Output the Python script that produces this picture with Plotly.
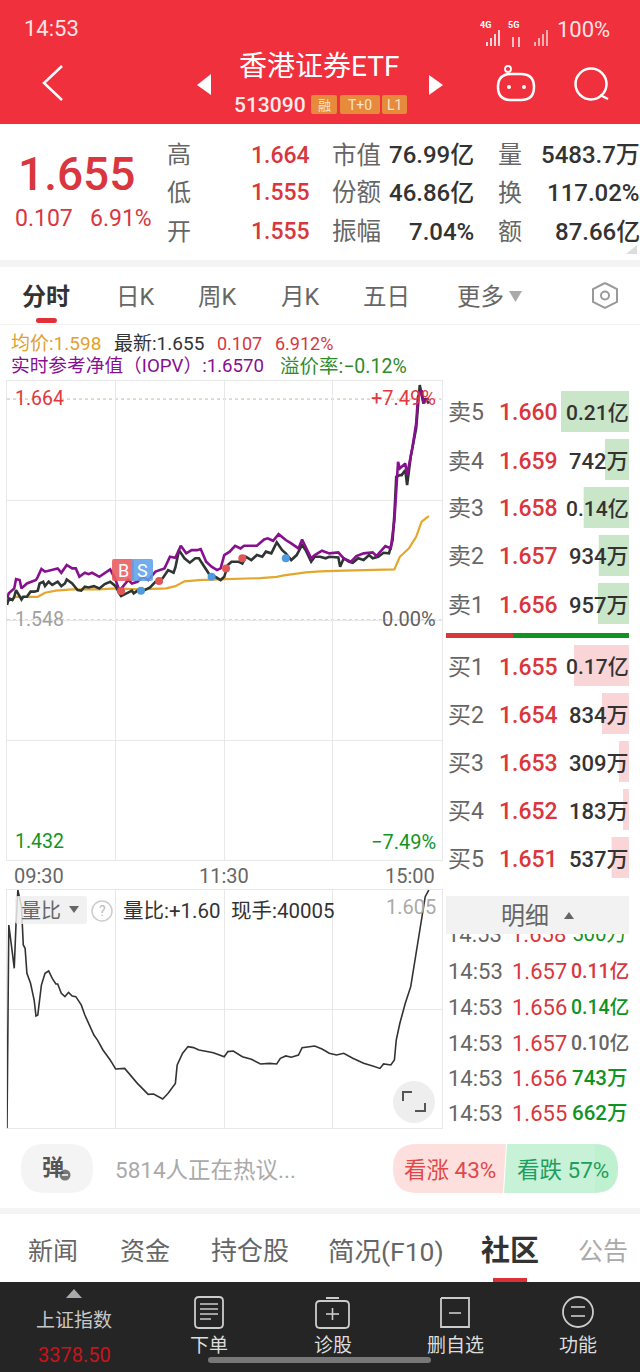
import plotly.graph_objects as go

W, H = 640, 1372
FONT = "Roboto, 'Noto Sans CJK SC', sans-serif"

RED = "#d9363e"
GREEN = "#11941f"
DARK = "#333333"
GRAY = "#666666"

# 分时 price chart, minute since 09:30 / price
price_min = [0, 1, 3, 4, 5, 6, 8, 9, 11, 13, 15, 17, 18, 20, 21, 23, 25, 28, 30, 32, 33, 36, 39, 41, 43, 45, 48, 51, 54, 57, 60, 62, 63, 66, 69, 70, 73, 76, 79, 82, 86, 89, 92, 93, 95, 98, 101, 104, 106, 109, 112, 115, 118, 120, 122, 124, 128, 130, 132, 135, 138, 141, 143, 146, 149, 152, 154, 157, 160, 163, 165, 168, 170, 173, 176, 178, 181, 183, 184, 186, 189, 191, 194, 197, 200, 202, 205, 208, 211, 213, 214, 215, 217, 218, 220, 221, 223, 226, 228, 230, 231, 233]
price = [1.5559, 1.5594, 1.5585, 1.5602, 1.5637, 1.5620, 1.5588, 1.5602, 1.5602, 1.5629, 1.5629, 1.5634, 1.5672, 1.5681, 1.5658, 1.5681, 1.5664, 1.5681, 1.5658, 1.5672, 1.5693, 1.5672, 1.5637, 1.5634, 1.5655, 1.5651, 1.5658, 1.5646, 1.5669, 1.5681, 1.5658, 1.5620, 1.5606, 1.5620, 1.5634, 1.5620, 1.5641, 1.5637, 1.5651, 1.5681, 1.5699, 1.5742, 1.5728, 1.5756, 1.5847, 1.5804, 1.5781, 1.5804, 1.5804, 1.5760, 1.5716, 1.5707, 1.5690, 1.5707, 1.5769, 1.5786, 1.5786, 1.5777, 1.5812, 1.5795, 1.5821, 1.5812, 1.5839, 1.5830, 1.5888, 1.5847, 1.5830, 1.5795, 1.5821, 1.5874, 1.5847, 1.5786, 1.5812, 1.5812, 1.5804, 1.5812, 1.5812, 1.5809, 1.5760, 1.5804, 1.5786, 1.5781, 1.5804, 1.5795, 1.5821, 1.5804, 1.5812, 1.5833, 1.5830, 1.5900, 1.6040, 1.6232, 1.6241, 1.6241, 1.6267, 1.6189, 1.6337, 1.6486, 1.6714, 1.6617, 1.6644, 1.6617]

iopv_min = [0, 1, 4, 5, 7, 8, 11, 14, 16, 17, 19, 21, 24, 28, 30, 33, 36, 38, 40, 43, 45, 47, 51, 55, 57, 60, 62, 64, 67, 69, 72, 75, 78, 82, 87, 90, 93, 96, 99, 102, 105, 107, 110, 113, 116, 118, 120, 123, 126, 129, 131, 138, 142, 144, 147, 150, 154, 157, 161, 163, 165, 168, 170, 174, 178, 183, 186, 190, 193, 197, 202, 204, 209, 212, 214, 215, 216, 217, 220, 221, 224, 226, 227, 229, 230, 233]
iopv = [1.5594, 1.5620, 1.5646, 1.5695, 1.5690, 1.5646, 1.5672, 1.5681, 1.5690, 1.5707, 1.5748, 1.5734, 1.5742, 1.5751, 1.5728, 1.5769, 1.5751, 1.5751, 1.5707, 1.5728, 1.5721, 1.5728, 1.5707, 1.5734, 1.5746, 1.5690, 1.5637, 1.5655, 1.5690, 1.5672, 1.5681, 1.5707, 1.5690, 1.5734, 1.5751, 1.5812, 1.5807, 1.5870, 1.5830, 1.5847, 1.5847, 1.5853, 1.5786, 1.5760, 1.5742, 1.5751, 1.5821, 1.5839, 1.5870, 1.5856, 1.5870, 1.5870, 1.5903, 1.5909, 1.5896, 1.5931, 1.5900, 1.5882, 1.5856, 1.5903, 1.5865, 1.5804, 1.5821, 1.5844, 1.5830, 1.5835, 1.5804, 1.5786, 1.5816, 1.5830, 1.5835, 1.5816, 1.5868, 1.5856, 1.6005, 1.6162, 1.6311, 1.6276, 1.6302, 1.6241, 1.6390, 1.6512, 1.6652, 1.6687, 1.6626, 1.6644]

avg_min = [0, 5, 12, 17, 21, 27, 36, 44, 51, 60, 73, 88, 93, 98, 106, 116, 129, 140, 149, 153, 165, 173, 186, 199, 214, 215, 217, 222, 226, 229, 233]
avg = [1.5576, 1.5602, 1.5602, 1.5602, 1.5623, 1.5634, 1.5641, 1.5641, 1.5641, 1.5646, 1.5641, 1.5646, 1.5658, 1.5683, 1.5690, 1.5693, 1.5697, 1.5700, 1.5707, 1.5714, 1.5730, 1.5735, 1.5739, 1.5742, 1.5746, 1.5769, 1.5812, 1.5856, 1.5917, 1.5996, 1.6026]

buy_min = [63, 84, 121, 130]
buy_price = [1.5632, 1.5685, 1.5751, 1.5804]
sell_min = [74, 113, 154]
sell_price = [1.5634, 1.5707, 1.5804]

# 量比
ratio_min = [0, 1, 3, 4, 5, 6, 8, 9, 10, 11, 13, 15, 16, 17, 19, 21, 23, 25, 27, 28, 30, 32, 34, 36, 38, 41, 43, 45, 48, 50, 53, 57, 60, 65, 69, 72, 78, 81, 86, 89, 93, 94, 97, 100, 103, 106, 109, 114, 120, 122, 125, 130, 135, 140, 145, 149, 151, 154, 157, 161, 163, 170, 174, 178, 182, 186, 191, 197, 202, 206, 208, 212, 214, 215, 217, 220, 223, 226, 229, 231, 233]
ratio = [0.00, 1.369, 1.178, 1.077, 1.380, 1.605, 1.493, 1.234, 1.212, 1.043, 0.976, 0.863, 0.755, 0.762, 0.964, 1.043, 1.059, 1.009, 0.971, 0.971, 0.908, 0.886, 0.915, 0.890, 0.886, 0.830, 0.762, 0.706, 0.627, 0.593, 0.526, 0.459, 0.398, 0.402, 0.346, 0.301, 0.227, 0.229, 0.196, 0.234, 0.301, 0.425, 0.504, 0.549, 0.542, 0.526, 0.519, 0.508, 0.481, 0.515, 0.519, 0.481, 0.463, 0.432, 0.436, 0.432, 0.470, 0.486, 0.477, 0.492, 0.542, 0.553, 0.533, 0.504, 0.492, 0.504, 0.470, 0.436, 0.418, 0.402, 0.432, 0.425, 0.459, 0.593, 0.706, 0.841, 0.953, 1.178, 1.425, 1.560, 1.605]

# 五档, size in 万
sell_names = ["卖5", "卖4", "卖3", "卖2", "卖1"]
sell_prices = ["1.660", "1.659", "1.658", "1.657", "1.656"]
sell_sizes = [2100, 742, 1400, 934, 957]
sell_labels = ["0.21亿", "742万", "0.14亿", "934万", "957万"]
buy_names = ["买1", "买2", "买3", "买4", "买5"]
buy_prices = ["1.655", "1.654", "1.653", "1.652", "1.651"]
buy_sizes = [1700, 834, 309, 183, 537]
buy_labels = ["0.17亿", "834万", "309万", "183万", "537万"]

# 明细
tick_prices = ["1.658", "1.657", "1.656", "1.657", "1.656", "1.655"]
tick_sizes = ["500万", "0.11亿", "0.14亿", "0.10亿", "743万", "662万"]
tick_colors = [GREEN, RED, GREEN, GRAY, GREEN, GREEN]


def fx(x):
    return x / W


def fy(y):
    return 1 - y / H


annotations = []
shapes = []


def txt(x, y, s, size, color=DARK, anchor="left", weight=None):
    f = dict(family=FONT, size=size, color=color)
    if weight:
        f["weight"] = weight
    # glyphs sit a bit inside the box
    shift = {"left": -0.5, "right": 0.5}.get(anchor, 0)
    annotations.append(dict(xref="paper", yref="paper", x=fx(x + shift), y=fy(y), text=s, font=f,
                            showarrow=False, xanchor=anchor, yanchor="middle", borderpad=0, borderwidth=0))


def rect(x0, y0, x1, y1, color, layer="below"):
    shapes.append(dict(type="rect", xref="paper", yref="paper", x0=fx(x0), x1=fx(x1),
                       y0=fy(y0), y1=fy(y1), fillcolor=color, line_width=0, layer=layer))


def pth(points, color, width=2, fill=None, close=False):
    d = "M" + " L".join(f"{fx(a):.5f},{fy(b):.5f}" for a, b in points)
    if close:
        d += " Z"
    s = dict(type="path", xref="paper", yref="paper", path=d, layer="above",
             line=dict(color=color, width=width))
    if fill:
        s["fillcolor"] = fill
        s["line"]["width"] = 0
    shapes.append(s)


def rrect(x0, y0, x1, y1, r, fill=None, line=None, lw=1.5, layer="above"):
    q = lambda a, b, c, d: f"Q{fx(a):.5f},{fy(b):.5f} {fx(c):.5f},{fy(d):.5f} "
    l = lambda a, b: f"L{fx(a):.5f},{fy(b):.5f} "
    d = f"M{fx(x0 + r):.5f},{fy(y0):.5f} " + l(x1 - r, y0) + q(x1, y0, x1, y0 + r) + l(x1, y1 - r) + \
        q(x1, y1, x1 - r, y1) + l(x0 + r, y1) + q(x0, y1, x0, y1 - r) + l(x0, y0 + r) + q(x0, y0, x0 + r, y0) + "Z"
    s = dict(type="path", xref="paper", yref="paper", path=d, layer=layer)
    s["line"] = dict(color=line, width=lw) if line else dict(width=0)
    if fill:
        s["fillcolor"] = fill
    shapes.append(s)


def circle(cx, cy, r, fill=None, line=None, lw=2, layer="above"):
    s = dict(type="circle", xref="paper", yref="paper", x0=fx(cx - r), x1=fx(cx + r),
             y0=fy(cy + r), y1=fy(cy - r), layer=layer)
    s["line"] = dict(color=line, width=lw) if line else dict(width=0)
    if fill:
        s["fillcolor"] = fill
    shapes.append(s)


fig = go.Figure()

# lines
fig.add_trace(go.Scatter(x=avg_min, y=avg, mode="lines", line=dict(color="#e3a72b", width=2.2)))
fig.add_trace(go.Scatter(x=price_min, y=price, mode="lines", line=dict(color="#2e3532", width=2.6)))
fig.add_trace(go.Scatter(x=iopv_min, y=iopv, mode="lines", line=dict(color="#87108f", width=2.6)))
fig.add_trace(go.Scatter(x=buy_min, y=buy_price, mode="markers", marker=dict(color="#e25555", size=8)))
fig.add_trace(go.Scatter(x=sell_min, y=sell_price, mode="markers", marker=dict(color="#4f9be0", size=8)))
fig.add_trace(go.Scatter(x=ratio_min, y=ratio, mode="lines", xaxis="x2", yaxis="y2",
                         line=dict(color="#333333", width=1.6)))

# order book bars
fig.add_trace(go.Bar(x=sell_sizes, y=sell_names, orientation="h", xaxis="x3", yaxis="y3",
                     marker=dict(color="#c9e6c9", line_width=0)))
fig.add_trace(go.Bar(x=buy_sizes, y=buy_names, orientation="h", xaxis="x4", yaxis="y4",
                     marker=dict(color="#f9d5d7", line_width=0)))

# top row of 明细 is cut by the header, so it goes on its own clipped axis
fig.add_trace(go.Scatter(x=[447, 511], y=[936, 936], mode="text", xaxis="x5", yaxis="y5",
                         text=["14:53", tick_prices[0]], textposition="middle right", cliponaxis=True,
                         textfont=dict(family=FONT, size=22, color=[GRAY, RED])))
fig.add_trace(go.Scatter(x=[627], y=[936], mode="text", xaxis="x5", yaxis="y5",
                         text=[tick_sizes[0]], textposition="middle left", cliponaxis=True,
                         textfont=dict(family=FONT, size=20.5, color=tick_colors[0])))

GRID = "#e8e8e8"
hidden = dict(visible=False, fixedrange=True)

# header
rect(0, 0, W, 124, "#f0303c")
txt(24, 28, "14:53", 22, "#ffe3e3")
txt(557, 29, "100%", 22, "#ffe3e3")
txt(480, 25, "<b>4G</b>", 9, "white")
txt(508, 25, "<b>5G</b>", 9, "white")
for k in range(4):
    pth([(487 + k * 4, 46), (487 + k * 4, 42 - k * 4)], "white", 1.6)
    pth([(535 + k * 4, 46), (535 + k * 4, 42 - k * 4)], "#ffd0d0", 1.6)
pth([(513, 37), (513, 47)], "white", 1.4)
pth([(519, 37), (519, 47)], "white", 1.4)
pth([(62, 66), (44, 83), (62, 100)], "white", 2.5)
pth([(211, 74), (197, 85), (211, 95)], "white", fill="white", close=True)
pth([(429, 75), (443, 85), (429, 95)], "white", fill="white", close=True)
txt(319, 67, "香港证券ETF", 28, "white", "center")
txt(234, 105, "513090", 21, "#ffecec", weight=500)
rrect(311, 95, 337, 114, 2, fill="#e68a3c")
rrect(340, 95, 380, 114, 2, fill="#e68a3c")
rrect(382, 95, 407, 114, 2, fill="#e68a3c")
txt(324, 105, "融", 13, "#fbe3c8", "center")
txt(360, 105, "T+0", 14, "#fbe3c8", "center")
txt(394.5, 105, "L1", 14, "#fbe3c8", "center")
rrect(498, 74, 534, 100, 13, line="white", lw=2.5)
circle(508, 69, 3, line="white", lw=1.8)
circle(509, 87, 2, fill="white")
circle(524, 87, 2, fill="white")
circle(591, 84, 15.5, line="white", lw=2.5)
pth([(600, 95), (608, 99)], "white", 2.5)

# quote panel
rect(0, 260, W, 267, "#f4f4f4")
txt(18, 174, "1.655", 46, RED, weight=500)
txt(15, 218, "0.107", 23, RED)
txt(90, 218, "6.91%", 23, RED)
for y, a, v, b, c, d, e in [(155, "高", "1.664", "市值", "76.99亿", "量", "5483.7万"),
                            (193, "低", "1.555", "份额", "46.86亿", "换", "117.02%"),
                            (232, "开", "1.555", "振幅", "7.04%", "额", "87.66亿")]:
    txt(167, y, a, 24, GRAY)
    txt(309, y, v, 23, RED, "right", weight=500)
    txt(332, y, b, 24.5, GRAY)
    txt(473, y, c, 24, DARK, "right", weight=500)
    txt(498, y, d, 24, GRAY)
    txt(639, y, e, 24, DARK, "right", weight=500)
pth([(637, 245), (637, 254), (626, 254)], "#dddddd", fill="#dddddd", close=True)

# period tabs
txt(22, 297, "<b>分时</b>", 24, DARK)
for x, s in [(116, "日K"), (198, "周K"), (281, "月K"), (363, "五日"), (457, "更多")]:
    txt(x, 297, s, 23.5, GRAY)
pth([(509, 291), (522, 291), (515.5, 302)], "#aaaaaa", fill="#aaaaaa", close=True)
pth([(605, 283), (617, 289), (617, 302), (605, 308), (593, 302), (593, 289), (605, 283)], "#999999", 2)
circle(605, 295.5, 4, line="#999999", lw=2)
rrect(36, 318, 57, 323, 2.5, fill="#e0303a")
rect(0, 324, W, 325, "#f2f2f2")

# info rows
txt(11, 343, "均价:1.598", 19, "#e3a030")
txt(114, 343, "最新:1.655", 19, DARK)
txt(217, 343, "0.107", 18, RED)
txt(275, 343, "6.912%", 18, RED)
txt(11, 366, "实时参考净值（IOPV）:1.6570", 18.7, "#87108f")
txt(280, 366, "溢价率:−0.12%", 19.5, "#2e8b2e")

# price levels
for lvl in [1.664, 1.548]:
    shapes.append(dict(type="line", xref="x", yref="y", x0=0, x1=240, y0=lvl, y1=lvl, layer="below",
                       line=dict(color="#c8b89a" if lvl > 1.6 else "#aaaaaa", width=1, dash="dot")))
txt(15, 398, "1.664", 19.5, "#e0383e")
txt(435, 398, "+7.49%", 20, "#e0383e", "right")
txt(15, 619, "1.548", 19.5, "#a0a0a0")
txt(435, 619, "0.00%", 20, "#606060", "right")
txt(15, 842, "1.432", 19.5, GREEN)
txt(435, 842, "−7.49%", 20, GREEN, "right")
txt(14, 876, "09:30", 20, GRAY)
txt(224, 876, "11:30", 20, GRAY, "center")
txt(434, 876, "15:00", 20, GRAY, "right")

# B / S badges
rrect(112, 559, 134, 581, 2, fill="rgba(232,90,95,0.88)")
rrect(132, 559, 153, 581, 2, fill="rgba(96,160,232,0.88)")
txt(123.5, 570, "B", 18, "white", "center")
txt(142.5, 570, "S", 18, "white", "center")

# order book text
for rows, names, prices, labels in [([413, 461, 509, 557, 605], sell_names, sell_prices, sell_labels),
                                    ([667, 715, 763, 811, 859], buy_names, buy_prices, buy_labels)]:
    for y, n, p, l in zip(rows, names, prices, labels):
        txt(448, y, n, 23, GRAY)
        txt(499, y, p, 23, RED, weight=500)
        txt(628, y, l, 21 if "亿" in l else 22, DARK, "right", weight=500)
rect(446, 633, 513, 638, RED, "above")
rect(513, 633, 629, 638, GREEN, "above")

# ratio chart labels
rrect(15, 896, 87, 924, 3, fill="rgba(238,238,238,0.85)")
txt(21, 911, "量比", 20, GRAY)
pth([(69, 906), (79, 906), (74, 913)], GRAY, fill=GRAY, close=True)
circle(102, 911, 10, line="#cccccc", lw=1.5)
txt(102, 911, "?", 14, "#bbbbbb", "center")
txt(123, 911, "量比:+1.60", 20.5, DARK)
txt(231, 911, "现手:40005", 20.5, DARK)
txt(435, 907, "1.605", 20, "#aaaaaa", "right")
circle(414, 1102, 21, fill="#eeeeee")
pth([(403, 1101), (403, 1092), (412, 1092)], "#555555", 2)
pth([(425, 1103), (425, 1111), (415, 1111)], "#555555", 2)

# 明细
rect(446, 896, 629, 934, "#f2f2f2", "above")
txt(525, 916, "明细", 24, GRAY, "center")
pth([(564, 919), (574, 919), (569, 912)], GRAY, fill=GRAY, close=True)
for y, p, s, c in zip([971, 1007, 1043, 1078, 1113], tick_prices[1:], tick_sizes[1:], tick_colors[1:]):
    txt(448, y, "14:53", 22, GRAY)
    txt(512, y, p, 22, RED)
    if "亿" in s:
        txt(628, y, s, 19.5, c, "right", weight=500)
    else:
        txt(626, y, s, 20.5, c, "right", weight=500)

# comment bar
rrect(21, 1144, 93, 1193, 24, fill="#f4f4f4")
txt(53, 1167, "<b>弹</b>", 22, "#555555", "center")
circle(65, 1175, 5.5, fill="#777777")
pth([(62, 1175), (68, 1175)], "white", 1.5)
txt(115, 1170, "5814人正在热议...", 22.5, "#aaaaaa")
rrect(393, 1144, 440, 1193, 24, fill="#fde0de")
pth([(415, 1144), (506, 1144), (503, 1193), (415, 1193)], "#fde0de", fill="#fde0de", close=True)
rrect(570, 1144, 618, 1193, 24, fill="#bff0d0")
pth([(507, 1144), (595, 1144), (595, 1193), (504, 1193)], "#c8f2d8", fill="#c8f2d8", close=True)
txt(404, 1170, "看涨 43%", 22.5, "#e0484a")
txt(517, 1170, "看跌 57%", 22.5, "#1f9e5f")
rect(0, 1208, W, 1214, "#f4f4f4")

# bottom tabs
for x, s, sz in [(28, "新闻", 25), (120, "资金", 25), (211, "持仓股", 26), (328, "简况(F10)", 26.5)]:
    txt(x, 1251, s, sz, GRAY)
txt(481, 1251, "<b>社区</b>", 29, DARK)
txt(578, 1251, "公告", 25, "#aaaaaa")

# nav bar
rect(0, 1282, W, H, "#252525")
rect(493, 1278, 527, 1282, "#d9303a")
pth([(66, 1298), (82, 1298), (74, 1289)], "#aaaaaa", fill="#aaaaaa", close=True)
txt(73.5, 1320, "上证指数", 19, "#c8c8c8", "center")
txt(74, 1355, "3378.50", 20, "#c8141c", "center")
txt(209, 1345, "下单", 19, "#dddddd", "center")
txt(333, 1345, "诊股", 19, "#dddddd", "center")
txt(455, 1345, "删自选", 19, "#dddddd", "center")
txt(578, 1345, "功能", 19, "#dddddd", "center")
rrect(195, 1297, 223, 1328, 4, line="#cccccc", lw=1.8)
for y in [1304, 1309, 1314, 1319]:
    pth([(200, y), (218 if y < 1319 else 211, y)], "#cccccc", 1.5)
rrect(316, 1301, 349, 1328, 4, line="#cccccc", lw=1.8)
pth([(326, 1298), (339, 1298)], "#cccccc", 2)
pth([(326, 1314), (339, 1314)], "#cccccc", 1.6)
pth([(332.5, 1308), (332.5, 1320)], "#cccccc", 1.6)
pth([(441, 1298), (469, 1298), (469, 1327), (441, 1327), (441, 1298)], "#cccccc", 1.8)
pth([(449, 1313), (461, 1313)], "#cccccc", 1.6)
circle(578, 1312, 15, line="#cccccc", lw=1.8)
pth([(571, 1307), (585, 1307)], "#cccccc", 1.6)
pth([(571, 1316), (585, 1316)], "#cccccc", 1.6)
rrect(208, 1357, 431, 1363, 3, fill="#777777")

fig.update_layout(
    width=W, height=H, margin=dict(l=0, r=0, t=0, b=0), autosize=False,
    paper_bgcolor="white", plot_bgcolor="rgba(0,0,0,0)", showlegend=False, hovermode=False, bargap=7 / 48,
    annotations=annotations, shapes=shapes,
    xaxis=dict(domain=[fx(7), fx(441.5)], range=[0, 240], tickvals=[60, 120, 180], gridcolor=GRID, gridwidth=1,
               showticklabels=False, zeroline=False, showline=True, mirror=True, linecolor=GRID, fixedrange=True),
    yaxis=dict(domain=[fy(860), fy(381)], range=[1.422, 1.6735], tickvals=[1.485, 1.548, 1.611], gridcolor=GRID,
               showticklabels=False, zeroline=False, showline=True, mirror=True, linecolor=GRID, fixedrange=True),
    xaxis2=dict(domain=[fx(7), fx(441.5)], range=[0, 240], tickvals=[60, 120, 180], gridcolor=GRID, anchor="y2",
                showticklabels=False, zeroline=False, showline=True, mirror=True, linecolor=GRID, fixedrange=True),
    yaxis2=dict(domain=[fy(1128), fy(890)], range=[0, 1.605], tickvals=[0.8025], gridcolor=GRID, anchor="x2",
                showticklabels=False, zeroline=False, showline=True, mirror=True, linecolor=GRID, fixedrange=True),
    xaxis3=dict(domain=[fx(561), fx(629)], range=[2100, 0], anchor="y3", **hidden),
    yaxis3=dict(domain=[fy(627.5), fy(387.5)], anchor="x3", categoryorder="array",
                categoryarray=sell_names[::-1], **hidden),
    xaxis4=dict(domain=[fx(561), fx(629)], range=[2100, 0], anchor="y4", **hidden),
    yaxis4=dict(domain=[fy(881.5), fy(641.5)], anchor="x4", categoryorder="array",
                categoryarray=buy_names[::-1], **hidden),
    xaxis5=dict(domain=[fx(446), fx(630)], range=[446, 630], anchor="y5", **hidden),
    yaxis5=dict(domain=[fy(960), fy(934)], range=[960, 934], anchor="x5", **hidden),
)

fig.write_html("out.html", config={"displayModeBar": False},
               post_script="document.body.style.margin='0';document.body.style.overflow='hidden';")
